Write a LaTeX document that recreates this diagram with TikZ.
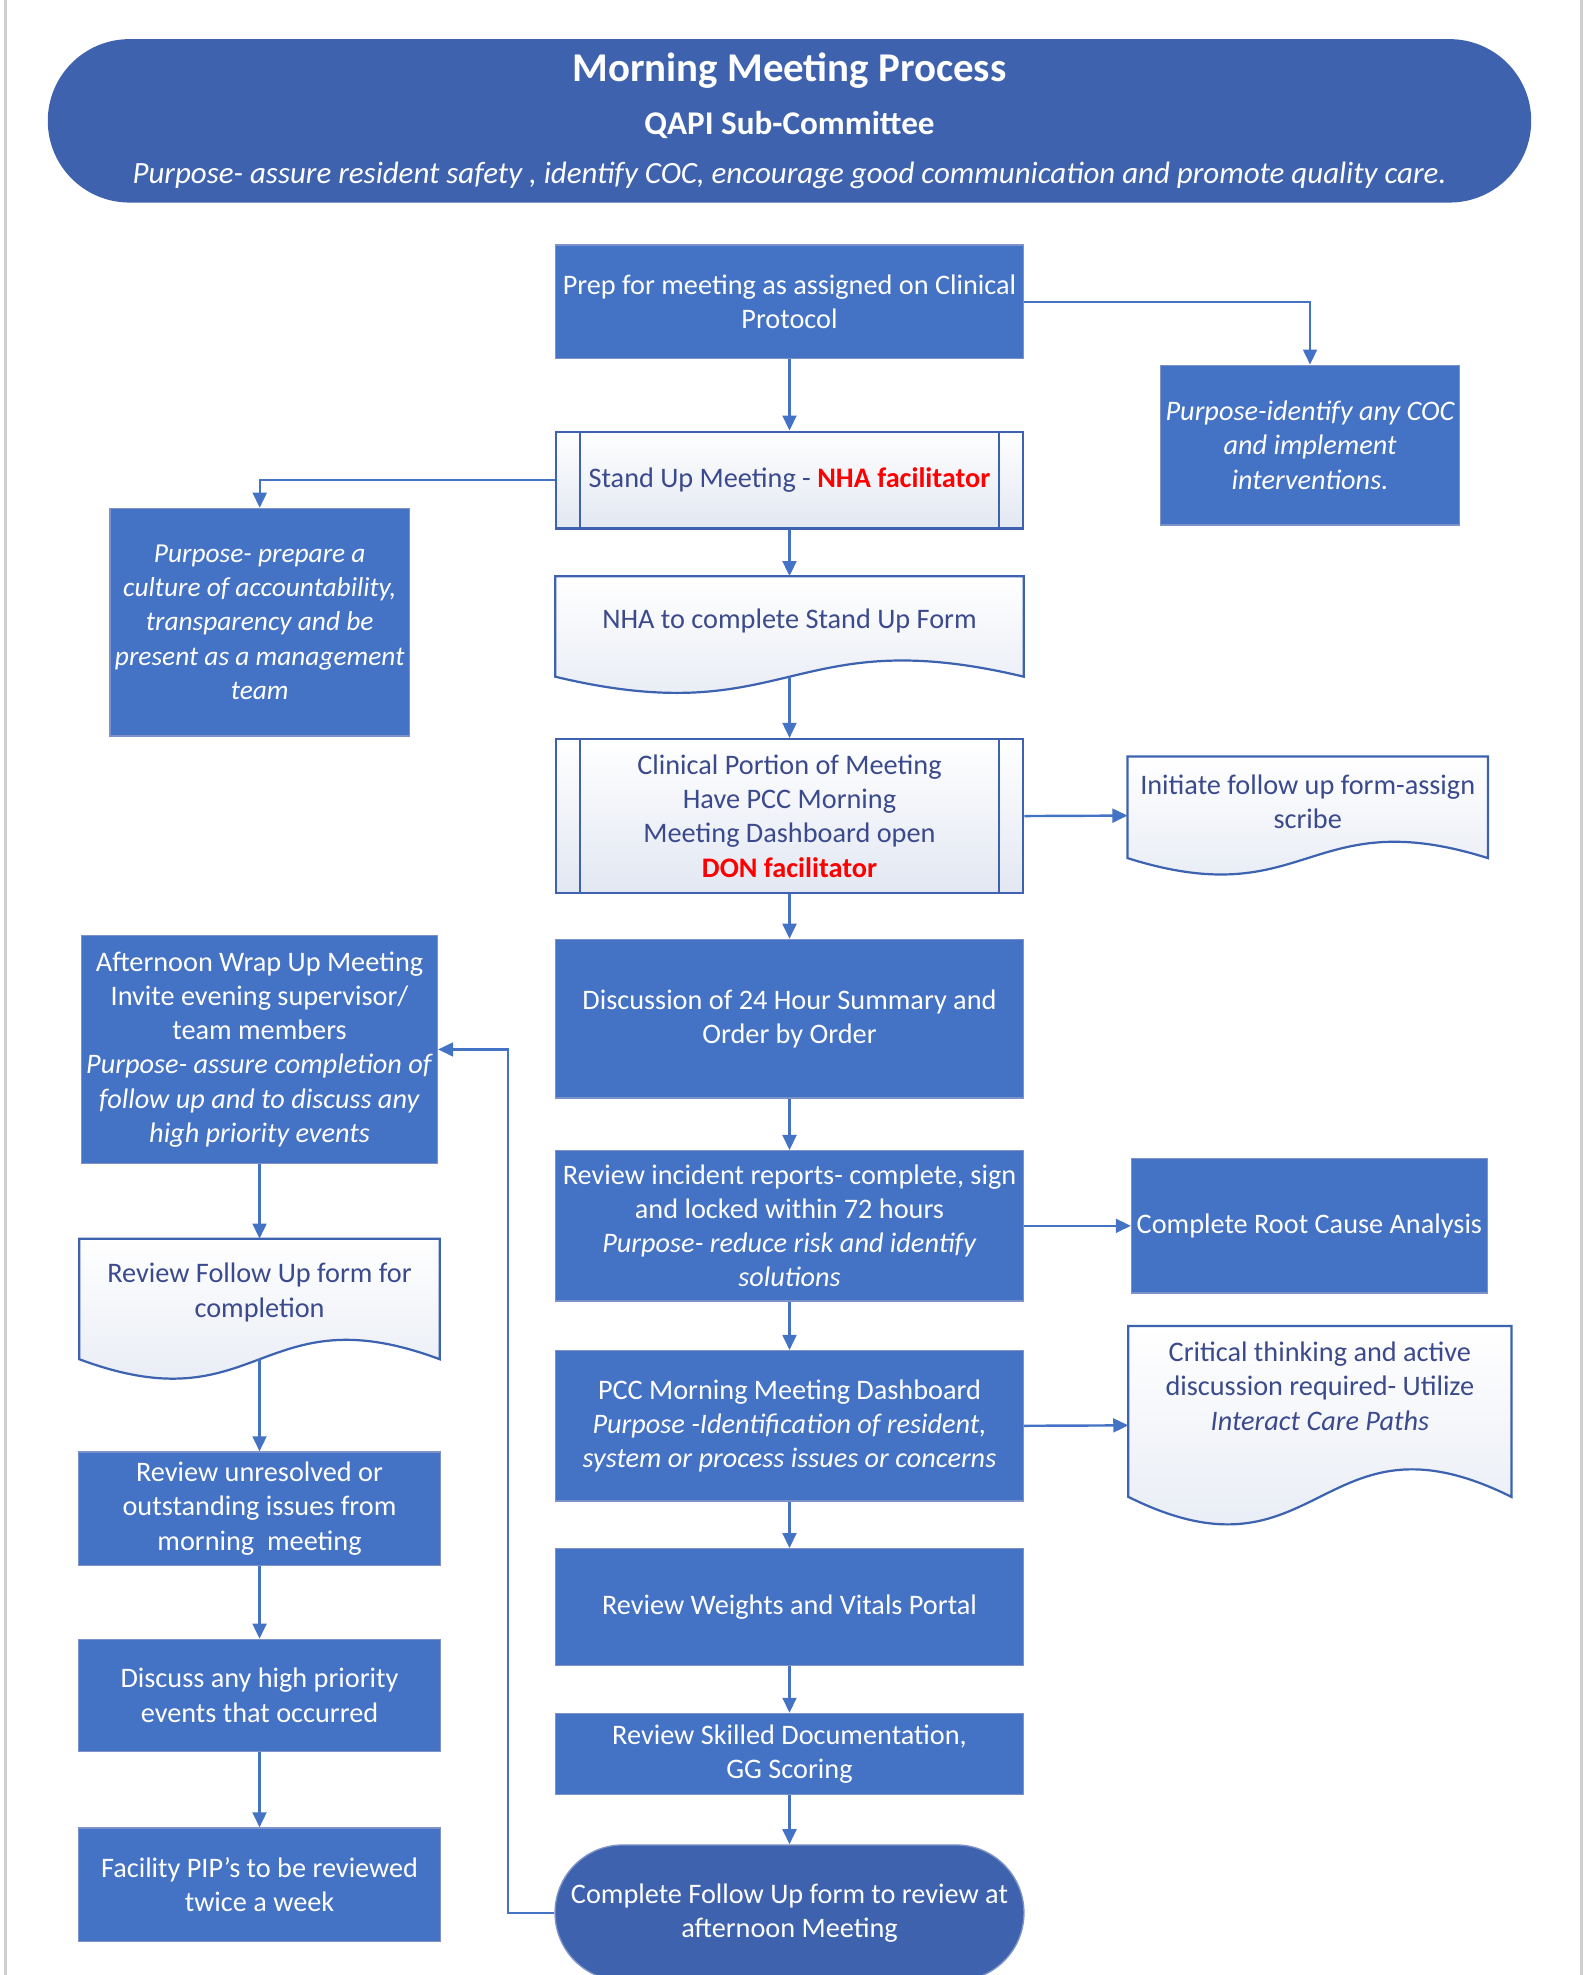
\documentclass[tikz,border=0pt]{standalone}
\usepackage{fontspec}
\setmainfont{Carlito}
\usepackage{tikz}
\usetikzlibrary{positioning,arrows.meta,backgrounds}

\definecolor{boxblue}{HTML}{4472C4}
\definecolor{darkblue}{HTML}{3E62AD}
\definecolor{boxedge}{HTML}{7D93C7}
\definecolor{lineblue}{HTML}{4472C4}
\definecolor{edgeblue}{HTML}{3C62B0}
\definecolor{paleblue}{HTML}{E2E7F2}
\definecolor{inkblue}{HTML}{3B4A8C}
\definecolor{pagegray}{HTML}{CFCFCF}
\definecolor{alertred}{HTML}{FF0000}

\newcommand\boxfont{\fontsize{12.8pt}{15.5pt}\selectfont}

% wavy bottom of a document symbol, #2 = full height
\newcommand\docshape[2]{%
  \begin{scope}[on background layer]
    \path[docpath] (#1.north west) -- (#1.north east) -- ([yshift=-0.86*#2]#1.north east)
      .. controls ([yshift=-0.38*#2]#1.north) and ([yshift=-1.34*#2]#1.north) .. ([yshift=-0.86*#2]#1.north west) -- cycle;
  \end{scope}
  \coordinate (#1-b) at ([yshift=-0.86*#2]#1.north);
  \coordinate (#1-w) at ([yshift=-0.5*#2]#1.north west);
}
% inner bars of a predefined process
\newcommand\procbars[1]{%
  \draw[edgeblue, line width=1pt] ([xshift=0.4cm]#1.north west) -- ([xshift=0.4cm]#1.south west)
    ([xshift=-0.4cm]#1.north east) -- ([xshift=-0.4cm]#1.south east);
}

\begin{document}
\begin{tikzpicture}[
        fillbox/.style={rectangle, draw=boxedge, line width=0.6pt, fill=boxblue, text=white, align=center, font=\boxfont, inner sep=2pt, minimum width=7.44cm},
        procbox/.style={rectangle, draw=edgeblue, line width=1pt, top color=white, bottom color=paleblue, text=inkblue, align=center, font=\boxfont, inner sep=2pt, minimum width=7.44cm},
        docbox/.style={rectangle, draw=none, text=inkblue, align=center, font=\boxfont, inner sep=2pt},
        docpath/.style={draw=edgeblue, line width=1pt, top color=white, bottom color=paleblue},
        termbox/.style={rectangle, rounded corners=1.08cm, draw=boxedge, line width=0.6pt, fill=darkblue, text=white, align=center, font=\boxfont, minimum width=7.46cm, minimum height=2.16cm},
        header/.style={rectangle, rounded corners=1.3cm, fill=darkblue, text=white, align=center, minimum width=23.6cm, minimum height=2.6cm, font=\fontsize{14pt}{22.2pt}\selectfont},
        arrow/.style={-{Triangle[length=0.24cm,width=0.22cm]}, line width=1.1pt, draw=lineblue}
    ]
        \useasboundingbox (0,0) rectangle (25.26,-31.42);
        \draw[pagegray, line width=1.5pt] (0.09,0) -- (0.09,-31.42) (25.16,0) -- (25.16,-31.42);

        % main column
        \node[fillbox, minimum height=1.8cm] (prep) at (12.56,-4.8) {Prep for meeting as assigned on Clinical\\Protocol};
        \node[header, above=0.7cm of prep, yshift=-0.04cm] (title) {{\fontsize{18.5pt}{22.2pt}\selectfont\bfseries Morning Meeting Process}\\[1.7pt]
            {\fontsize{15pt}{22.2pt}\selectfont\bfseries QAPI Sub-Committee}\\
            {\itshape Purpose- assure resident safety , identify COC, encourage good communication and promote quality care.}};
        \node[procbox, below=1.14cm of prep, minimum height=1.54cm] (standup) {Stand Up Meeting - {\color{alertred}\bfseries NHA facilitator}};
        \node[docbox, below=0.74cm of standup, minimum width=7.44cm, minimum height=1.414cm] (nhaform) {NHA to complete Stand Up Form};
        \docshape{nhaform}{1.86cm}
        \node[procbox, below=1.146cm of nhaform, minimum height=2.45cm] (clin) {Clinical Portion of Meeting\\Have PCC Morning\\Meeting Dashboard open\\{\color{alertred}\bfseries DON facilitator}};
        \node[fillbox, below=0.71cm of clin, minimum height=2.52cm] (discuss) {Discussion of 24 Hour Summary and\\Order by Order};
        \node[fillbox, below=0.82cm of discuss, minimum height=2.39cm] (incident) {Review incident reports- complete, sign\\and locked within 72 hours\\\textit{Purpose- reduce risk and identify}\\\textit{solutions}};
        \node[fillbox, below=0.77cm of incident, minimum height=2.39cm] (pcc) {PCC Morning Meeting Dashboard\\\textit{Purpose -Identification of resident,}\\\textit{system or process issues or concerns}};
        \node[fillbox, below=0.74cm of pcc, minimum height=1.86cm] (weights) {Review Weights and Vitals Portal};
        \node[fillbox, below=0.74cm of weights, minimum height=1.29cm] (skilled) {Review Skilled Documentation,\\GG Scoring};
        \node[termbox, below=0.78cm of skilled] (complete) {Complete Follow Up form to review at\\afternoon Meeting};

        % right column
        \node[fillbox, below right=1.0cm and 2.16cm of prep.east, minimum width=4.76cm, minimum height=2.54cm, font=\boxfont\itshape] (coc) {Purpose-identify any COC\\and implement\\interventions.};
        \node[docbox, right=1.64cm of clin, yshift=0.226cm, minimum width=5.72cm, minimum height=1.429cm] (initiate) {Initiate follow up form-assign\\scribe};
        \docshape{initiate}{1.88cm}
        \node[fillbox, right=1.7cm of incident, minimum width=5.66cm, minimum height=2.14cm] (rca) {Complete Root Cause Analysis};
        \node[docbox, right=1.66cm of pcc, yshift=0.632cm, minimum width=6.08cm, minimum height=1.896cm] (critical) {Critical thinking and active\\discussion required- Utilize\\\textit{Interact Care Paths}};
        \docshape{critical}{3.16cm}

        % left column
        \node[fillbox, below left=0.44cm and 2.3cm of standup.west, minimum width=4.76cm, minimum height=3.62cm, inner xsep=0pt, font=\fontsize{12.4pt}{15.5pt}\selectfont\itshape] (purposeL) {Purpose- prepare a\\culture of accountability,\\transparency and be\\present as a management\\team};
        \node[fillbox, left=1.86cm of discuss.north west, anchor=north east, yshift=0.06cm, minimum width=5.66cm, minimum height=3.62cm] (wrap) {Afternoon Wrap Up Meeting\\Invite evening supervisor/\\team members\\\textit{Purpose- assure completion of}\\\textit{follow up and to discuss any}\\\textit{high priority events}};
        \node[docbox, below=1.19cm of wrap, minimum width=5.72cm, minimum height=1.695cm] (revform) {Review Follow Up form for\\completion};
        \docshape{revform}{2.23cm}
        \node[fillbox, below=1.674cm of revform, minimum width=5.76cm, minimum height=1.8cm] (unresolved) {Review unresolved or\\outstanding issues from\\morning\ \ meeting};
        \node[fillbox, below=1.16cm of unresolved, minimum width=5.76cm, minimum height=1.78cm] (discussany) {Discuss any high priority\\events that occurred};
        \node[fillbox, below=1.2cm of discussany, minimum width=5.76cm, minimum height=1.8cm] (pip) {Facility PIP’s to be reviewed\\twice a week};

        \procbars{standup}
        \procbars{clin}

        % connectors
        \draw[arrow] (prep) -- (standup);
        \draw[arrow] (standup) -- (nhaform);
        \draw[arrow] (nhaform-b) -- (clin);
        \draw[arrow] (clin) -- (discuss);
        \draw[arrow] (discuss) -- (incident);
        \draw[arrow] (incident) -- (pcc);
        \draw[arrow] (pcc) -- (weights);
        \draw[arrow] (weights) -- (skilled);
        \draw[arrow] (skilled) -- (complete);
        \draw[arrow] (prep.east) -| (coc.north);
        \draw[arrow] (standup.west) -| (purposeL.north);
        \draw[arrow] (clin.east) -- (initiate-w);
        \draw[arrow] (incident) -- (rca);
        \draw[arrow] (pcc.east) -- (critical-w);
        \draw[arrow] (wrap) -- (revform);
        \draw[arrow] (revform-b) -- (unresolved);
        \draw[arrow] (unresolved) -- (discussany);
        \draw[arrow] (discussany) -- (pip);
        \draw[arrow] (complete.west) -- ++(-0.74,0) |- (wrap.east);
    \end{tikzpicture}
\end{document}
